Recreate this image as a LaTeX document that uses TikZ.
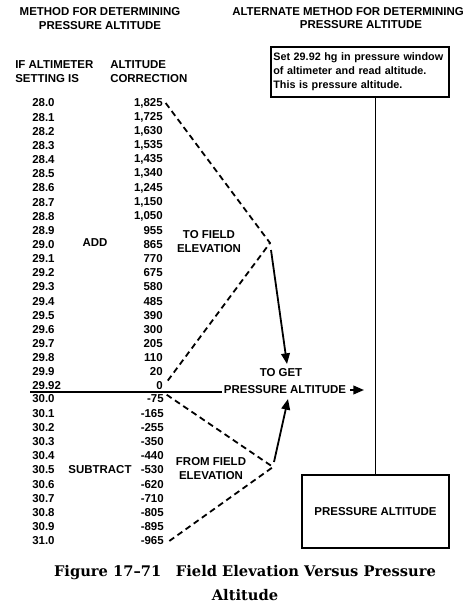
\documentclass[tikz,border=0pt]{standalone}
\usepackage{fontspec}
\setmainfont{Liberation Sans}
\newfontfamily\capfont{DejaVu Serif}
\usetikzlibrary{arrows.meta,calc}
\begin{document}
\begin{tikzpicture}[x=0.75pt,y=-0.75pt,
  lab/.style={font=\fontsize{8.6}{10.5}\selectfont\bfseries, inner sep=0pt},
  boxtxt/.style={font=\fontsize{8.1}{10.5}\selectfont\bfseries},
  dashline/.style={line width=1.35pt, dash pattern=on 4.5pt off 3pt},
  solidarrow/.style={line width=1.35pt, -{Triangle[length=8pt,width=6.5pt]}},
  frame/.style={draw, line width=1.4pt}]
\useasboundingbox (0,0) rectangle (474,603);
% titles
\node[lab] (t1a) at (100,12) {METHOD FOR DETERMINING};
\node[lab] (t1b) at (100,26) {PRESSURE ALTITUDE};
\node[lab] (t2a) at (348,12) {ALTERNATE METHOD FOR DETERMINING};
\node[lab] (t2b) at (361,25) {PRESSURE ALTITUDE};
% column headers
\node[lab, anchor=west] (h1a) at (15,65) {IF ALTIMETER};
\node[lab, anchor=west] (h1b) at (15,79) {SETTING IS};
\node[lab, anchor=west] (h2a) at (110,65) {ALTITUDE};
\node[lab, anchor=west] (h2b) at (110,79) {CORRECTION};
% upper rows
\foreach \l/\r [count=\i from 0] in {28.0/{1,825},28.1/{1,725},28.2/{1,630},28.3/{1,535},28.4/{1,435},28.5/{1,340},28.6/{1,245},28.7/{1,150},28.8/{1,050},28.9/955,29.0/865,29.1/770,29.2/675,29.3/580,29.4/485,29.5/390,29.6/300,29.7/205,29.8/110,29.9/20,29.92/0}{
  \node[lab, anchor=west] (u\i) at (32,{103+14.15*\i}) {\l};
  \node[lab, anchor=east] (v\i) at (163,{103+14.15*\i}) {\r};
}
% lower rows
\foreach \l/\r [count=\i from 0] in {30.0/-75,30.1/-165,30.2/-255,30.3/-350,30.4/-440,30.5/-530,30.6/-620,30.7/-710,30.8/-805,30.9/-895,31.0/-965}{
  \node[lab, anchor=west] (d\i) at (32,{399+14.2*\i}) {\l};
  \node[lab, anchor=east] (w\i) at (164,{399+14.2*\i}) {\r};
}
\node[lab] (add) at (95,243) {ADD};
\node[lab] (sub) at (100,470) {SUBTRACT};
\node[lab, align=center] (tofield) at (209,242) {TO FIELD\\ELEVATION};
\node[lab, align=center] (fromfield) at (211,469) {FROM FIELD\\ELEVATION};
\node[lab] (toget) at (281,373) {TO GET};
\node[lab] (getpa) at (285,390) {PRESSURE ALTITUDE};
% horizontal line
\coordinate (lineL) at (30,392);
\draw[line width=1.2pt] (lineL) -- ([xshift=-1pt]getpa.west |- lineL);
% dashed lines
\coordinate (apex1) at (270,243);
\coordinate (apex2) at (273,467);
\draw[dashline] ([xshift=2pt]v0.east) -- (apex1) -- ([xshift=3pt]v20.north east);
\draw[dashline] ([xshift=2pt]w0.north east) -- (apex2) -- ([xshift=4pt]w10.east);
% arrows
\coordinate (a1s) at (271,250);
\coordinate (a1e) at (287,364);
\coordinate (a2s) at (274,462);
\coordinate (a2e) at (288,399);
\draw[solidarrow] (a1s) -- (a1e);
\draw[solidarrow] (a2s) -- (a2e);
\coordinate (paend) at (364,390);
\draw[solidarrow] ([xshift=3pt]getpa.east) -- (paend);
% boxes
\node[frame, boxtxt, align=left, text width=130pt, minimum width=133pt, minimum height=37.5pt, inner xsep=1.5pt, inner ysep=2pt] (topbox) at (360,72)
 {\hyphenpenalty=10000\relax Set 29.92 hg in pressure window\\of altimeter and read altitude.\\This is pressure altitude.};
\node[frame, lab, minimum width=110pt, minimum height=55pt] (pabox) at (375.5,511.5) {PRESSURE ALTITUDE};
\draw[line width=1.4pt] (pabox.north) -- (pabox.north |- topbox.south);
% caption
\node[font=\capfont\bfseries\fontsize{11}{13}\selectfont] (cap1) at (245,573) {Figure 17–71\quad Field Elevation Versus Pressure};
\node[font=\capfont\bfseries\fontsize{11}{13}\selectfont] (cap2) at (245,595) {Altitude};
\end{tikzpicture}
\end{document}
